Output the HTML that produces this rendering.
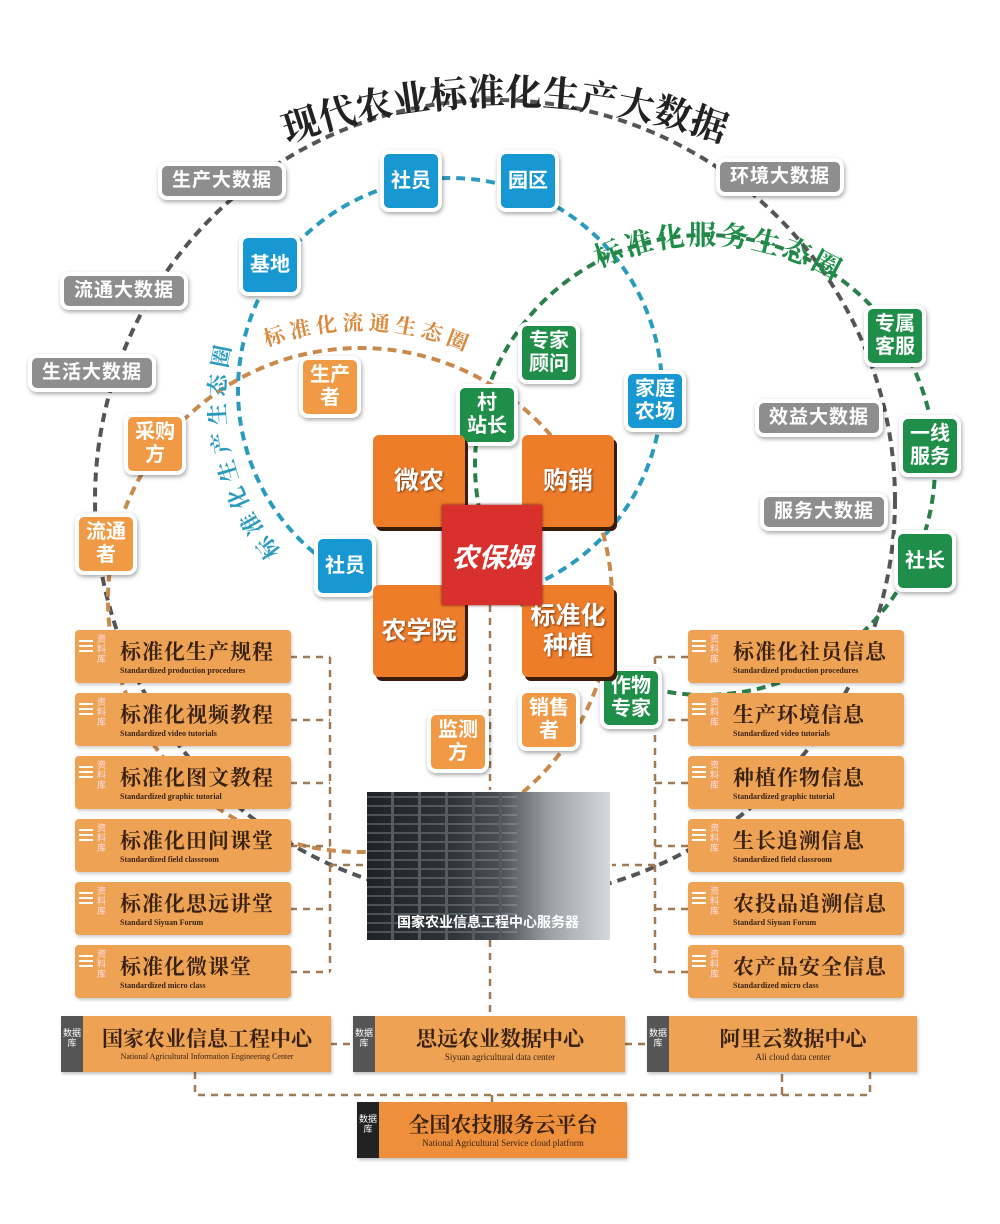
<!DOCTYPE html>
<html><head><meta charset="utf-8"><style>
*{margin:0;padding:0;box-sizing:border-box}
body{width:1000px;height:1224px;background:#fff;position:relative;overflow:hidden;font-family:"Liberation Sans","Noto Sans CJK SC",sans-serif}
.b{position:absolute;color:#fff;font-weight:bold;display:flex;align-items:center;justify-content:center;text-align:center;border:4px solid #fff;border-radius:9px;box-shadow:1px 2px 4px rgba(0,0,0,.35);line-height:1.15}
.g{background:#8e8e8e;font-size:19px;height:38px;letter-spacing:1px}
.bl{background:#1898d2;font-size:20px;width:62px;height:62px}
.gr{background:#1f8e48;font-size:20px;width:62px;height:62px}
.or{background:#f19a45;font-size:20px;width:62px;height:62px}
.sq{position:absolute;width:92px;height:92px;background:#ee7d2a;border-radius:6px;box-shadow:3px 4px 0 #3a1c0a;color:#fff;font-weight:bold;font-size:25px;display:flex;align-items:center;justify-content:center;text-align:center;line-height:1.2;text-shadow:1px 1px 2px #7a3a10}
.p{position:absolute;width:216px;height:53px;background:#eea354;border-radius:4px;box-shadow:1px 2px 3px rgba(0,0,0,.2)}
.p .s{position:absolute;left:4px;top:10px;width:14px;height:2px;background:#fff;box-shadow:0 5px 0 #fff,0 10px 0 #fff}
.p .k{position:absolute;left:22px;top:4px;font-size:9px;color:#fde;width:10px;line-height:10px}
.p .t{position:absolute;left:45px;top:6px;font-family:"Liberation Serif","Noto Serif CJK SC",serif;font-weight:bold;font-size:21px;color:#3a2214;letter-spacing:1px;white-space:nowrap}
.p .e{position:absolute;left:45px;top:36px;font-family:"Liberation Serif",serif;font-weight:bold;font-size:8px;color:#3a2214;white-space:nowrap}
.d{position:absolute;height:56px;background:#eea354;box-shadow:1px 2px 3px rgba(0,0,0,.25)}
.d .l{position:absolute;left:0;top:0;bottom:0;width:22px;background:#555;color:#fff;font-size:9px;text-align:center;padding-top:12px;line-height:10px}
.d .t{position:absolute;left:22px;right:0;top:7px;text-align:center;font-family:"Liberation Serif","Noto Serif CJK SC",serif;font-weight:bold;font-size:21px;color:#3a2214;white-space:nowrap}
.d .e{position:absolute;left:22px;right:0;top:36px;text-align:center;font-family:"Liberation Serif",serif;font-size:9px;color:#3a2214;white-space:nowrap}
</style></head><body>
<svg width="1000" height="1224" style="position:absolute;left:0;top:0">
<defs>
<path id="tp" d="M-142,752 A647,647 0 0 1 1152,752"/>
<path id="gp" d="M455,465 A252,252 0 0 1 955,465"/>
<path id="bp" d="M330,595 A234,234 0 0 1 300,228"/>
</defs>
<g fill="none" stroke-width="4" stroke-dasharray="9 6">
<circle cx="495" cy="500" r="400" stroke="#555"/>
<circle cx="450" cy="390" r="212" stroke="#2a9bbf"/>
<circle cx="705" cy="465" r="230" stroke="#2a7f4a"/>
<circle cx="360" cy="600" r="252" stroke="#c98a4e"/>
</g>
<g fill="none" stroke="#a07a55" stroke-width="2.5" stroke-dasharray="7 6">
<path d="M290,657 H330 M290,720 H330 M290,783 H330 M290,846 H330 M290,909 H330 M290,972 H330 M330,657 V972 M330,865 H367"/>
<path d="M688,657 H655 M688,720 H655 M688,783 H655 M688,846 H655 M688,909 H655 M688,972 H655 M655,657 V972 M655,865 H612"/>
<path d="M490,605 V790 M490,940 V1016 M330,1044 H353 M625,1044 H647 M195,1072 V1095 H782 V1072 M782,1095 V1072 M492,1095 V1102"/>
<path d="M782,1095 H870 V1072"/>
</g>
<text font-family="Liberation Serif,Noto Serif CJK SC,serif" font-weight="bold" font-size="37" fill="#222"><textPath href="#tp" startOffset="50%" text-anchor="middle">现代农业标准化生产大数据</textPath></text>
<text font-family="Liberation Serif,Noto Serif CJK SC,serif" font-weight="bold" font-size="28" fill="#1f8e48"><textPath href="#gp" startOffset="52%" text-anchor="middle" letter-spacing="3">标准化服务生态圈</textPath></text>
<text font-family="Liberation Serif,Noto Serif CJK SC,serif" font-weight="bold" font-size="22" fill="#2a9bbf"><textPath href="#bp" startOffset="42%" text-anchor="middle" letter-spacing="6">标准化生产生态圈</textPath></text>
</svg>

<div class="b g" style="left:158px;top:162px;width:128px">生产大数据</div>
<div class="b g" style="left:60px;top:272px;width:128px">流通大数据</div>
<div class="b g" style="left:28px;top:354px;width:128px">生活大数据</div>
<div class="b g" style="left:716px;top:158px;width:128px">环境大数据</div>
<div class="b g" style="left:755px;top:399px;width:128px">效益大数据</div>
<div class="b g" style="left:760px;top:493px;width:128px">服务大数据</div>

<div class="b bl" style="left:380px;top:150px">社员</div>
<div class="b bl" style="left:497px;top:150px">园区</div>
<div class="b bl" style="left:239px;top:234px">基地</div>
<div class="b bl" style="left:314px;top:535px">社员</div>
<div class="b bl" style="left:624px;top:370px">家庭<br>农场</div>

<div class="b gr" style="left:518px;top:322px">专家<br>顾问</div>
<div class="b gr" style="left:456px;top:384px">村<br>站长</div>
<div class="b gr" style="left:864px;top:305px">专属<br>客服</div>
<div class="b gr" style="left:899px;top:415px">一线<br>服务</div>
<div class="b gr" style="left:894px;top:530px">社长</div>
<div class="b gr" style="left:600px;top:667px">作物<br>专家</div>

<div class="b or" style="left:299px;top:356px">生产<br>者</div>
<div class="b or" style="left:124px;top:413px">采购<br>方</div>
<div class="b or" style="left:75px;top:513px">流通<br>者</div>
<div class="b or" style="left:427px;top:711px">监测<br>方</div>
<div class="b or" style="left:518px;top:689px">销售<br>者</div>

<svg width="1000" height="700" style="position:absolute;left:0;top:0">
<defs><path id="op" d="M90,600 A270,270 0 0 1 630,600"/></defs>
<text font-family="Liberation Serif,Noto Serif CJK SC,serif" font-weight="bold" font-size="21" fill="#d98a3e"><textPath href="#op" startOffset="51%" text-anchor="middle" letter-spacing="5">标准化流通生态圈</textPath></text>
</svg>

<div class="sq" style="left:373px;top:435px">微农</div>
<div class="sq" style="left:522px;top:435px">购销</div>
<div class="sq" style="left:373px;top:585px">农学院</div>
<div class="sq" style="left:522px;top:585px">标准化<br>种植</div>
<div style="position:absolute;left:442px;top:505px;width:100px;height:100px;background:#d8302c;box-shadow:0 0 3px #611;color:#fff;font-weight:bold;font-size:27px;display:flex;align-items:center;justify-content:center;font-style:italic">农保姆</div>

<div style="position:absolute;left:367px;top:792px;width:243px;height:148px;background:linear-gradient(90deg,#1d2226 0%,#2e3438 35%,#4a5055 55%,#9aa0a4 75%,#d6d9dc 100%)">
<div style="position:absolute;left:0;top:0;width:150px;height:148px;background:repeating-linear-gradient(90deg,transparent 0 24px,#555b60 24px 27px),repeating-linear-gradient(0deg,transparent 0 7px,rgba(160,170,175,.35) 7px 9px)"></div>
<div style="position:absolute;left:30px;top:120px;color:#fff;font-size:14px;font-weight:bold">国家农业信息工程中心服务器</div>
</div>

<div class="p" style="left:75px;top:630px"><i class="s"></i><span class="k">资料库</span><span class="t">标准化生产规程</span><span class="e">Standardized production procedures</span></div>
<div class="p" style="left:75px;top:693px"><i class="s"></i><span class="k">资料库</span><span class="t">标准化视频教程</span><span class="e">Standardized video tutorials</span></div>
<div class="p" style="left:75px;top:756px"><i class="s"></i><span class="k">资料库</span><span class="t">标准化图文教程</span><span class="e">Standardized graphic tutorial</span></div>
<div class="p" style="left:75px;top:819px"><i class="s"></i><span class="k">资料库</span><span class="t">标准化田间课堂</span><span class="e">Standardized field classroom</span></div>
<div class="p" style="left:75px;top:882px"><i class="s"></i><span class="k">资料库</span><span class="t">标准化思远讲堂</span><span class="e">Standard Siyuan Forum</span></div>
<div class="p" style="left:75px;top:945px"><i class="s"></i><span class="k">资料库</span><span class="t">标准化微课堂</span><span class="e">Standardized micro class</span></div>

<div class="p" style="left:688px;top:630px"><i class="s"></i><span class="k">资料库</span><span class="t">标准化社员信息</span><span class="e">Standardized production procedures</span></div>
<div class="p" style="left:688px;top:693px"><i class="s"></i><span class="k">资料库</span><span class="t">生产环境信息</span><span class="e">Standardized video tutorials</span></div>
<div class="p" style="left:688px;top:756px"><i class="s"></i><span class="k">资料库</span><span class="t">种植作物信息</span><span class="e">Standardized graphic tutorial</span></div>
<div class="p" style="left:688px;top:819px"><i class="s"></i><span class="k">资料库</span><span class="t">生长追溯信息</span><span class="e">Standardized field classroom</span></div>
<div class="p" style="left:688px;top:882px"><i class="s"></i><span class="k">资料库</span><span class="t">农投品追溯信息</span><span class="e">Standard Siyuan Forum</span></div>
<div class="p" style="left:688px;top:945px"><i class="s"></i><span class="k">资料库</span><span class="t">农产品安全信息</span><span class="e">Standardized micro class</span></div>

<div class="d" style="left:61px;top:1016px;width:270px"><div class="l">数据库</div><div class="t">国家农业信息工程中心</div><div class="e" style="font-size:8px">National Agricultural Information Engineering Center</div></div>
<div class="d" style="left:353px;top:1016px;width:272px"><div class="l">数据库</div><div class="t">思远农业数据中心</div><div class="e">Siyuan agricultural data center</div></div>
<div class="d" style="left:647px;top:1016px;width:270px"><div class="l">数据库</div><div class="t">阿里云数据中心</div><div class="e">Ali cloud data center</div></div>
<div class="d" style="left:357px;top:1102px;width:270px;background:#ee8f3c"><div class="l" style="background:#222">数据库</div><div class="t">全国农技服务云平台</div><div class="e">National Agricultural Service cloud platform</div></div>
</body></html>
